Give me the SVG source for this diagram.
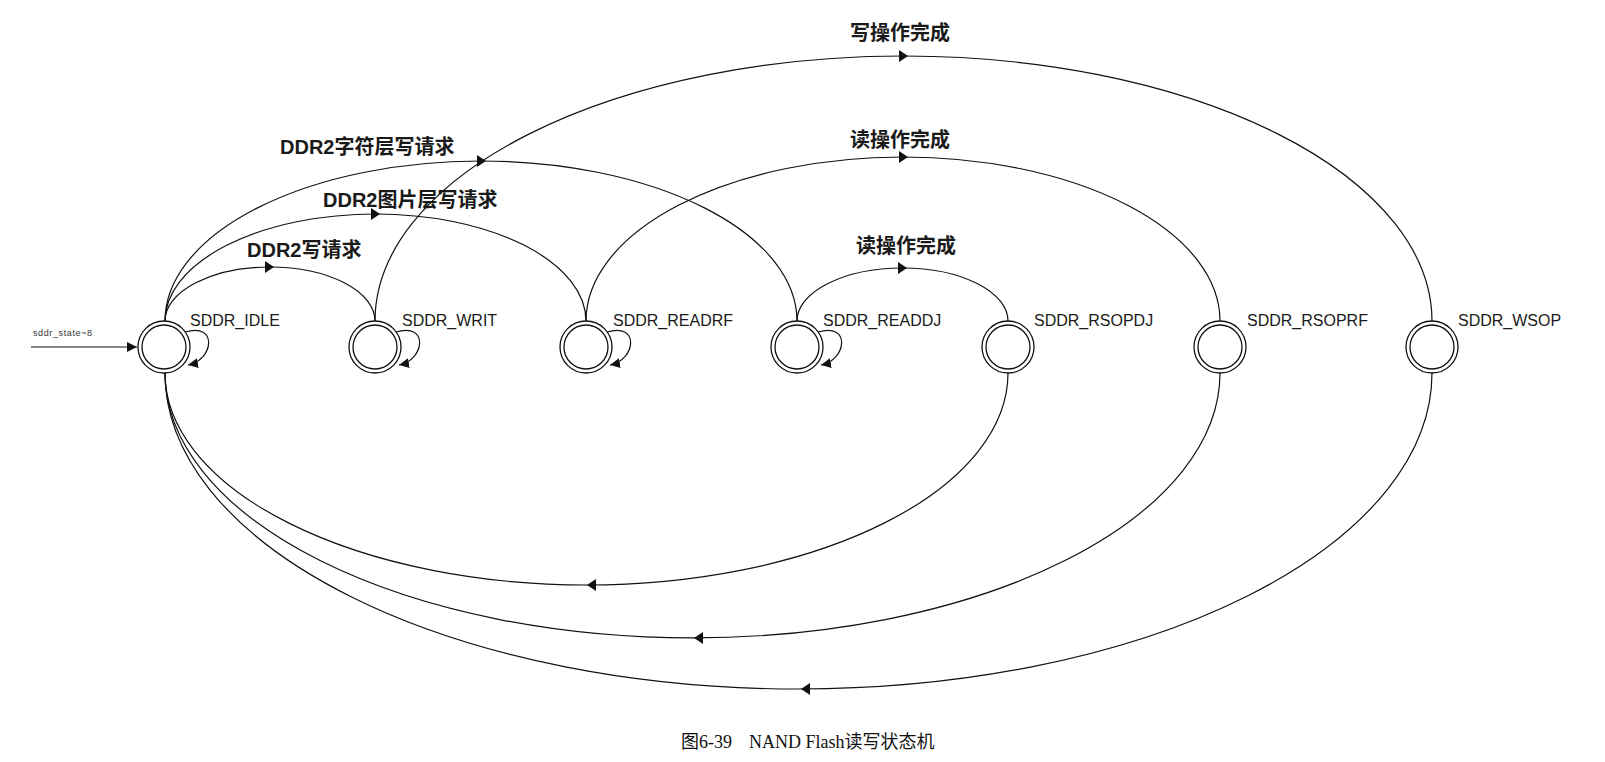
<svg xmlns="http://www.w3.org/2000/svg" xmlns:xlink="http://www.w3.org/1999/xlink" width="1605" height="762" viewBox="0 0 1605 762">
<style>
.st{fill:none;stroke:#111;stroke-width:1.3}
.ln{fill:none;stroke:#111;stroke-width:1.2}
.nl{font-family:"Liberation Sans",Arial,sans-serif;font-size:16px;fill:#1a1a1a}
.el{font-family:"Liberation Sans","Noto Sans CJK SC",sans-serif;font-size:20px;font-weight:700;fill:#1a1a1a}
.cap{font-family:"Liberation Serif","Noto Sans CJK SC",serif;font-size:18px;fill:#111}
.sm{font-family:"Liberation Sans",Arial,sans-serif;font-size:9px;fill:#333}
</style>
<defs>
<path id="ah" d="M-4,-6 L5,0 L-4,6 Z" fill="#111"/>
<marker id="m" markerUnits="userSpaceOnUse" markerWidth="11" markerHeight="11" refX="10" refY="5" orient="auto">
<path d="M0,0 L10,5 L0,10 Z" fill="#111"/>
</marker>
<g id="dc">
<circle r="26" class="st"/>
<circle r="22" class="st"/>
</g>
</defs>
<rect width="1605" height="762" fill="#fff"/>

<g id="connectors">
<line x1="31" y1="347" x2="137" y2="347" class="ln" marker-end="url(#m)"/>
<text x="33" y="336" class="sm" textLength="59">sddr_state~8</text>

<path d="M165 321 A105 54 0 0 1 375 321" class="ln"/>
<use xlink:href="#ah" transform="translate(269,267)"/>
<text x="247" y="257" class="el">DDR2写请求</text>

<path d="M165 321 A210.5 107 0 0 1 586 321" class="ln"/>
<use xlink:href="#ah" transform="translate(375,214)"/>
<text x="323" y="207" class="el">DDR2图片层写请求</text>

<path d="M165 321 A316 160 0 0 1 797 321" class="ln"/>
<use xlink:href="#ah" transform="translate(481,161)"/>
<text x="280" y="154" class="el">DDR2字符层写请求</text>

<path d="M375 321 A528.5 265 0 0 1 1432 321" class="ln"/>
<use xlink:href="#ah" transform="translate(903,56)"/>
<text x="850" y="40" class="el">写操作完成</text>

<path d="M586 321 A317 164 0 0 1 1220 321" class="ln"/>
<use xlink:href="#ah" transform="translate(903,157)"/>
<text x="850" y="147" class="el">读操作完成</text>

<path d="M797 321 A105.5 53 0 0 1 1008 321" class="ln"/>
<use xlink:href="#ah" transform="translate(902,268)"/>
<text x="856" y="253" class="el">读操作完成</text>

<path d="M1008 373 A421.5 212 0 0 1 165 373" class="ln"/>
<use xlink:href="#ah" transform="translate(592,585) rotate(180)"/>

<path d="M1220 373 A527.5 265 0 0 1 165 373" class="ln"/>
<use xlink:href="#ah" transform="translate(699,638) rotate(180)"/>

<path d="M1432 373 A633.5 316 0 0 1 165 373" class="ln"/>
<use xlink:href="#ah" transform="translate(806,689) rotate(180)"/>

<path d="M185 332 C218 322 214 360 188 365" class="ln" marker-end="url(#m)"/>
<path d="M396 332 C429 322 425 360 399 365" class="ln" marker-end="url(#m)"/>
<path d="M607 332 C640 322 636 360 610 365" class="ln" marker-end="url(#m)"/>
<path d="M818 332 C851 322 847 360 821 365" class="ln" marker-end="url(#m)"/>
</g>

<g id="SDDR_IDLE"><use xlink:href="#dc" x="164" y="347"/><text x="190" y="326" class="nl">SDDR_IDLE</text></g>
<g id="SDDR_WRIT"><use xlink:href="#dc" x="375" y="347"/><text x="402" y="326" class="nl">SDDR_WRIT</text></g>
<g id="SDDR_READRF"><use xlink:href="#dc" x="586" y="347"/><text x="613" y="326" class="nl">SDDR_READRF</text></g>
<g id="SDDR_READDJ"><use xlink:href="#dc" x="797" y="347"/><text x="823" y="326" class="nl">SDDR_READDJ</text></g>
<g id="SDDR_RSOPDJ"><use xlink:href="#dc" x="1008" y="347"/><text x="1034" y="326" class="nl">SDDR_RSOPDJ</text></g>
<g id="SDDR_RSOPRF"><use xlink:href="#dc" x="1220" y="347"/><text x="1247" y="326" class="nl">SDDR_RSOPRF</text></g>
<g id="SDDR_WSOP"><use xlink:href="#dc" x="1432" y="347"/><text x="1458" y="326" class="nl">SDDR_WSOP</text></g>

<text class="cap" y="748"><tspan x="681">图6-39</tspan><tspan x="749">NAND Flash读写状态机</tspan></text>
</svg>
